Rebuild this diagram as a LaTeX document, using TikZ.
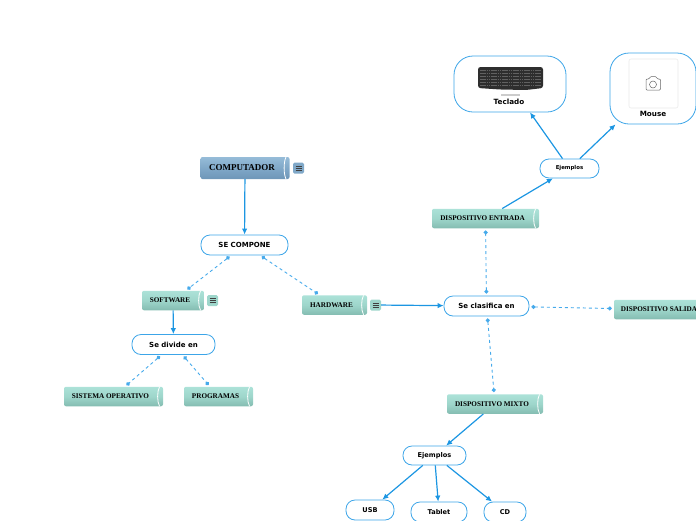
\documentclass[tikz,border=0pt]{standalone}
\usepackage{fontspec}
\setmainfont{DejaVu Sans}
\newfontfamily\barfont{Liberation Serif}
\usetikzlibrary{arrows.meta,calc}
\definecolor{linkblue}{RGB}{28,150,226}
\definecolor{dashblue}{RGB}{70,170,235}
\definecolor{pillblue}{RGB}{60,165,232}
\definecolor{tealtop}{RGB}{172,226,216}
\definecolor{tealmid}{RGB}{158,214,203}
\definecolor{tealbot}{RGB}{132,188,177}
\definecolor{bluetop}{RGB}{150,188,216}
\definecolor{bluemid}{RGB}{128,168,200}
\definecolor{bluebot}{RGB}{110,150,184}
\tikzset{
  barnode/.style={rounded corners=2pt,minimum height=19.5pt,inner sep=0pt,
    top color=tealtop,bottom color=tealbot,middle color=tealmid,
    font=\barfont\bfseries\fontsize{7.2}{9}\selectfont,text=black,
    path picture={\draw[white,line width=.8pt]
      ($(path picture bounding box.north east)+(-3.5,0)$) .. controls +(-2.5,5) and +(-2.5,-5) ..
      ($(path picture bounding box.south east)+(-3.5,0)$);}},
  rootbar/.style={barnode,top color=bluetop,bottom color=bluebot,middle color=bluemid,
    minimum height=22pt,font=\barfont\bfseries\fontsize{9}{11}\selectfont},
  pill/.style={draw=pillblue,line width=.8pt,fill=white,rounded corners=9pt,inner sep=0pt,
    minimum height=20pt,font=\bfseries\fontsize{7}{8}\selectfont,text=black},
  photobox/.style={pill,rounded corners=19pt},
  menuicon/.style={rounded corners=1.5pt,fill=tealmid,minimum size=11pt,inner sep=0pt,
    path picture={\foreach \k in {-2.2,0,2.2}
      \draw[black!75,line width=.6pt] ($(path picture bounding box.center)+(-3,\k)$) -- +(6,0);}},
  solidlink/.style={linkblue,line width=1.2pt,-{Latex[length=6pt,width=5.5pt]}},
  dashlink/.style={dashblue,line width=.9pt,dash pattern=on 3pt off 3pt,
    {Circle[length=4pt]}-{Circle[length=4pt]},shorten <=2pt,shorten >=2pt}
}
\begin{document}
\begin{tikzpicture}[x=1pt,y=-1pt]
\useasboundingbox (0,0) rectangle (696,520);
\clip (0,0) rectangle (696,520);
% left branch
\node [rootbar,minimum width=89pt] (computador) at (245,168) {\hspace*{-6pt}COMPUTADOR};
\node [menuicon,fill=bluemid] (computadormenu) at (298.5,168) {};
\node [pill,minimum width=87pt] (secompone) at (244.5,245) {SE COMPONE};
\node [barnode,minimum width=62pt] (software) at (173,300.5) {\hspace*{-6pt}SOFTWARE};
\node [menuicon] (softwaremenu) at (212.5,300.5) {};
\node [barnode,minimum width=65pt] (hardware) at (334.5,305) {\hspace*{-6pt}HARDWARE};
\node [menuicon] (hardwaremenu) at (375.5,305) {};
\node [pill,minimum width=83pt] (sedivide) at (173.5,344.5) {Se divide en};
\node [barnode,minimum width=99pt] (sistema) at (113.5,396.5) {\hspace*{-6pt}SISTEMA OPERATIVO};
\node [barnode,minimum width=69pt] (programas) at (218.5,396.5) {\hspace*{-6pt}PROGRAMAS};
% right branch
\node [pill,minimum width=85pt] (seclasifica) at (486.5,306) {Se clasifica en};
\node [barnode,minimum width=107pt] (entrada) at (485.5,218.5) {\hspace*{-6pt}DISPOSITIVO ENTRADA};
\node [barnode,minimum width=96pt] (salida) at (662,309.5) {\hspace*{-6pt}DISPOSITIVO SALIDA};
\node [barnode,minimum width=96pt] (mixto) at (495,404) {\hspace*{-6pt}DISPOSITIVO MIXTO};
\node [pill,minimum width=59pt,minimum height=19pt,font=\bfseries\fontsize{5.4}{7}\selectfont] (ejemplosa) at (569.5,168.5) {Ejemplos};
\node [pill,minimum width=63pt,minimum height=19pt,font=\bfseries\fontsize{6.6}{8}\selectfont] (ejemplosb) at (434.5,455.5) {Ejemplos};
\node [pill,minimum width=48pt,font=\bfseries\fontsize{6.6}{8}\selectfont] (usb) at (370,510) {USB};
\node [pill,minimum width=56pt,font=\bfseries\fontsize{6.6}{8}\selectfont] (tablet) at (439,512) {Tablet};
\node [pill,minimum width=42pt,font=\bfseries\fontsize{6.6}{8}\selectfont] (cd) at (505,512) {CD};
\node [photobox,minimum width=112pt,minimum height=56pt] (teclado) at (510,84) {};
\node [photobox,minimum width=86pt,minimum height=71pt] (mouse) at (653,88.5) {};
\node [font=\bfseries\fontsize{7.2}{8}\selectfont] (tecladotext) at (509,102) {Teclado};
\node [font=\bfseries\fontsize{7.2}{8}\selectfont] (mousetext) at (653,114) {Mouse};
% keyboard picture
\fill [black!82,rounded corners=2.5pt] (478,67) -- (543,67) -- (543,88) -- (526,90) -- (500,89.5) -- (478,88) -- cycle;
\foreach \r in {70,73,76,79,82,85}
  \draw [black!62,line width=.5pt,dash pattern=on 1.6pt off .6pt] (480,\r) -- (541,\r);
\fill [black!20] (501,94) rectangle (520,95.5);
% camera placeholder
\node [draw=black!8,fill=white,rounded corners=2pt,line width=.6pt,minimum size=49pt,inner sep=0pt] (photo) at (653.5,83.5) {};
\draw [black!60,line width=.5pt,rounded corners=1pt] (646,79) -- (649,79) -- (650.5,76.5) -- (656,76.5) -- (657.5,79) -- (660.5,79) -- (660.5,90) -- (646,90) -- cycle;
\draw [black!60,line width=.5pt] (653,84.5) circle (3.5);
% connectors
\draw [solidlink] (computador) -- (secompone);
\draw [dashlink] (secompone) -- (software);
\draw [dashlink] (secompone) -- (hardware);
\draw [solidlink] (software) -- (sedivide);
\draw [dashlink] (sedivide) -- (sistema);
\draw [dashlink] (sedivide) -- (programas);
\draw [solidlink] (hardwaremenu) -- (seclasifica);
\draw [dashlink] (seclasifica) -- (entrada);
\draw [dashlink] (seclasifica) -- (salida);
\draw [dashlink] (seclasifica) -- (mixto);
\draw [solidlink] (entrada) -- (ejemplosa);
\draw [solidlink] (ejemplosa) -- (teclado);
\draw [solidlink] (ejemplosa) -- (mouse);
\draw [solidlink] (mixto) -- (ejemplosb);
\draw [solidlink] (ejemplosb) -- (usb);
\draw [solidlink] (ejemplosb) -- (tablet);
\draw [solidlink] (ejemplosb) -- (cd);
\end{tikzpicture}
\end{document}
